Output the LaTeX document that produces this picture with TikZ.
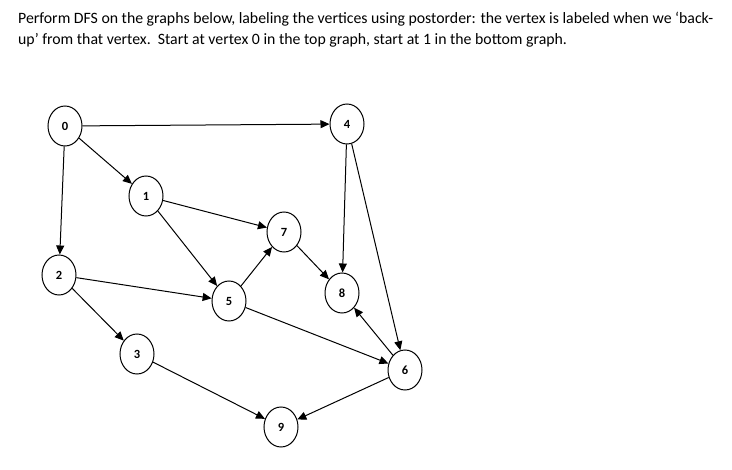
\documentclass[tikz,border=0pt]{standalone}
\usepackage{fontspec}
\setmainfont{Carlito}
\usetikzlibrary{shapes.geometric,arrows.meta}
\begin{document}
\begin{tikzpicture}[x=1pt,y=-1pt,
  v/.style={draw,line width=1pt,ellipse,minimum width=34pt,minimum height=40pt,inner sep=0pt,font=\fontsize{12.5}{14}\selectfont\bfseries,fill=white},
  e/.style={-{Triangle[length=9pt,width=8pt]},line width=1pt}]
\useasboundingbox (0,0) rectangle (732,470);
\node[anchor=north west,inner sep=0pt,align=left,font=\fontsize{15.8}{20.5}\selectfont] (txt) at (18,12)
 {Perform DFS on the graphs below, labeling the vertices using postorder: the vertex is labeled when we ‘back-\\up’ from that vertex.\ \ Start at vertex 0 in the top graph, start at 1 in the bottom graph.};
\node[v] (n0) at (65,126) {0};
\node[v] (n4) at (347,124) {4};
\node[v] (n1) at (146,196) {1};
\node[v] (n7) at (284,232) {7};
\node[v] (n2) at (59,275) {2};
\node[v] (n5) at (229,301) {5};
\node[v] (n8) at (342,293) {8};
\node[v] (n3) at (137,354) {3};
\node[v] (n6) at (405,370) {6};
\node[v] (n9) at (281,427) {9};
\draw[e] (n0)--(n4);
\draw[e] (n0)--(n1);
\draw[e] (n0)--(n2);
\draw[e] (n1)--(n7);
\draw[e] (n1)--(n5);
\draw[e] (n2)--(n5);
\draw[e] (n2)--(n3);
\draw[e] (n5)--(n7);
\draw[e] (n7)--(n8);
\draw[e] (n4)--(n8);
\draw[e] (n4)--(n6);
\draw[e] (n5)--(n6);
\draw[e] (n6)--(n8);
\draw[e] (n6)--(n9);
\draw[e] (n3)--(n9);
\end{tikzpicture}
\end{document}
